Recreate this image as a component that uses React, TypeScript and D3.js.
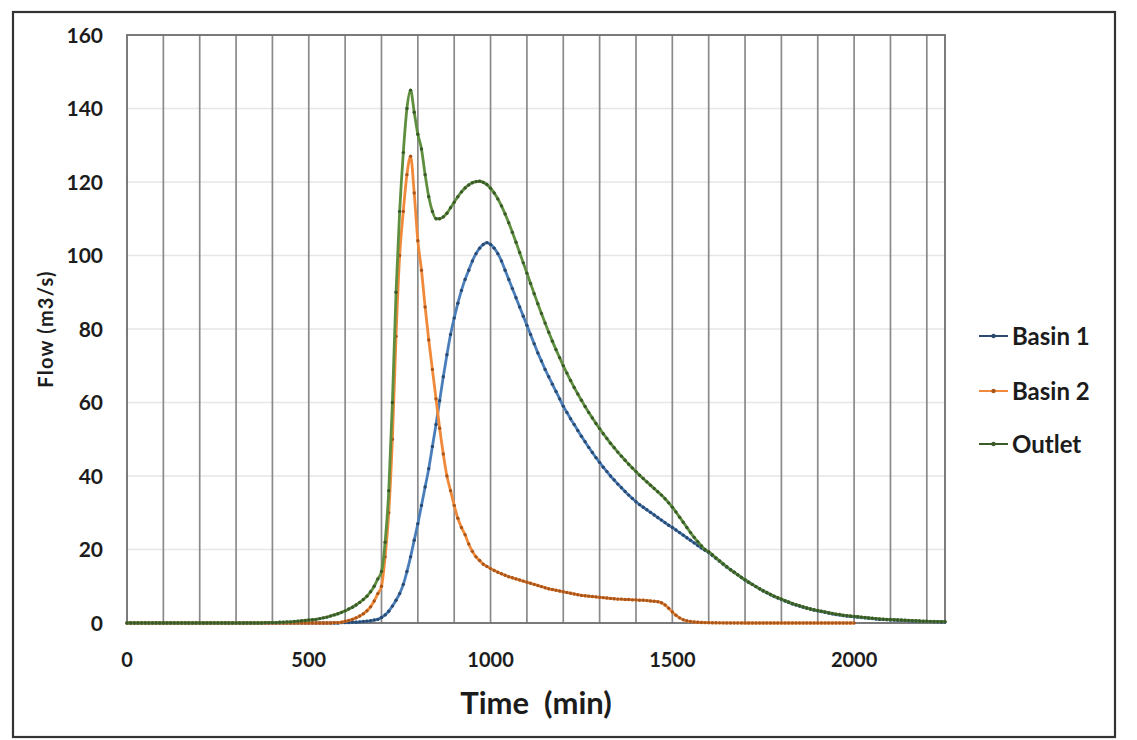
import React from "react";
import * as d3 from "d3";

// Time axis (min), 10-minute steps from 0 to 2250
const times: number[] = d3.range(0, 2251, 10);

const basin1: (number | null)[] = [
  0, 0, 0, 0, 0, 0, 0, 0, 0, 0,
  0, 0, 0, 0, 0, 0, 0, 0, 0, 0,
  0, 0, 0, 0, 0, 0, 0, 0, 0, 0,
  0, 0, 0, 0, 0, 0, 0, 0, 0, 0,
  0, 0, 0, 0, 0, 0, 0, 0, 0, 0,
  0, 0, 0, 0, 0, 0, 0, 0, 0, 0.1,
  0.1, 0.1, 0.2, 0.2, 0.3, 0.4, 0.5, 0.6, 0.8, 1.0,
  1.5, 2.2, 3.2, 4.6, 6.2, 8, 10.5, 14, 18, 22.5,
  27, 32, 37, 42, 48, 54, 60.5, 67, 73, 78.5,
  83, 87, 90.5, 93.5, 96, 98.5, 100.5, 102, 103, 103.5,
  103, 102, 100.5, 98.5, 96, 93.5, 91, 88.5, 86, 83.5,
  81, 78.5, 76, 73.5, 71.3, 69, 67, 65, 63, 61,
  59, 57.3, 55.6, 54, 52.4, 50.8, 49.3, 47.8, 46.4, 45,
  43.7, 42.4, 41.2, 40, 38.9, 37.8, 36.8, 35.8, 34.8, 33.9,
  33, 32.2, 31.5, 30.8, 30.1, 29.4, 28.7, 28, 27.3, 26.6,
  26, 25.3, 24.6, 23.9, 23.2, 22.5, 21.8, 21.1, 20.4, 19.8,
  19.2, 18.4, 17.6, 16.8, 16, 15.2, 14.5, 13.8, 13.1, 12.4,
  11.7, 11.1, 10.5, 9.9, 9.3, 8.7, 8.2, 7.7, 7.2, 6.8,
  6.4, 6, 5.6, 5.2, 4.9, 4.6, 4.3, 4, 3.8, 3.5,
  3.3, 3.1, 2.9, 2.7, 2.5, 2.3, 2.2, 2.0, 1.9, 1.8,
  1.7, 1.6, 1.5, 1.4, 1.3, 1.2, 1.1, 1.0, 0.95, 0.9,
  0.85, 0.8, 0.75, 0.7, 0.65, 0.6, 0.55, 0.5, 0.47, 0.44,
  0.41, 0.38, 0.35, 0.32, 0.3, 0.28,
];

const basin2: (number | null)[] = [
  0, 0, 0, 0, 0, 0, 0, 0, 0, 0,
  0, 0, 0, 0, 0, 0, 0, 0, 0, 0,
  0, 0, 0, 0, 0, 0, 0, 0, 0, 0,
  0, 0, 0, 0, 0, 0, 0, 0, 0, 0,
  0, 0, 0, 0, 0, 0, 0, 0, 0, 0,
  0, 0, 0, 0, 0, 0, 0, 0.1, 0.1, 0.2,
  0.5, 0.7, 1, 1.4, 1.9, 2.5, 3.3, 4.4, 6, 8,
  10, 18, 30, 50, 78, 100, 112, 122, 127, 117,
  104, 96, 86, 77, 69, 61, 53, 46, 40, 36,
  32, 28.5, 26, 24, 21.5, 19.5, 18, 17, 16, 15.4,
  14.8, 14.3, 13.8, 13.4, 13, 12.6, 12.3, 12, 11.7, 11.4,
  11.1, 10.8, 10.5, 10.2, 9.9, 9.6, 9.3, 9.1, 8.9, 8.7,
  8.5, 8.3, 8.1, 7.9, 7.7, 7.5, 7.4, 7.3, 7.2, 7.1,
  7.0, 6.9, 6.8, 6.7, 6.6, 6.5, 6.5, 6.4, 6.4, 6.3,
  6.3, 6.2, 6.2, 6.1, 6.0, 5.9, 5.8, 5.5, 4.9, 4.0,
  3.0, 2.1, 1.4, 0.9, 0.6, 0.4, 0.3, 0.2, 0.15, 0.1,
  0.08, 0.06, 0.05, 0.04, 0.03, 0.02, 0.02, 0.01, 0.01, 0.01,
  0, 0, 0, 0, 0, 0, 0, 0, 0, 0,
  0, 0, 0, 0, 0, 0, 0, 0, 0, 0,
  0, 0, 0, 0, 0, 0, 0, 0, 0, 0,
  0, null, null, null, null, null, null, null, null, null,
  null, null, null, null, null, null, null, null, null, null,
  null, null, null, null, null, null,
];

const outlet: (number | null)[] = [
  0, 0, 0, 0, 0, 0, 0, 0, 0, 0,
  0, 0, 0, 0, 0, 0, 0, 0, 0, 0,
  0, 0, 0, 0, 0, 0, 0, 0, 0, 0,
  0, 0, 0, 0, 0, 0, 0, 0, 0.1, 0.1,
  0.1, 0.1, 0.2, 0.2, 0.3, 0.3, 0.4, 0.5, 0.6, 0.7,
  0.8, 0.9, 1.0, 1.2, 1.4, 1.6, 1.9, 2.2, 2.5, 2.9,
  3.3, 3.8, 4.3, 4.9, 5.6, 6.4, 7.3, 8.5, 10, 12,
  14, 22, 36, 60, 90, 112, 128, 140, 145, 139,
  133, 129, 122, 116, 112, 110, 110, 110.5, 111.5, 113,
  114.5, 116, 117.3, 118.4, 119.2, 119.8, 120.1, 120.2, 119.9, 119.3,
  118.3, 117, 115.4, 113.5, 111.3, 108.9, 106.3, 103.6, 100.8, 98,
  95.2, 92.4, 89.6, 86.9, 84.2, 81.6, 79.1, 76.7, 74.4, 72.2,
  70, 68, 66, 64.1, 62.3, 60.6, 58.9, 57.3, 55.8, 54.3,
  52.9, 51.5, 50.2, 48.9, 47.7, 46.5, 45.4, 44.3, 43.2, 42.2,
  41.2, 40.2, 39.3, 38.4, 37.5, 36.6, 35.7, 34.8, 33.8, 32.7,
  31.5, 30.2, 28.8, 27.4, 26, 24.6, 23.3, 22.1, 21, 20,
  19.4, 18.6, 17.7, 16.9, 16.1, 15.3, 14.5, 13.8, 13.1, 12.4,
  11.8, 11.1, 10.5, 9.9, 9.3, 8.8, 8.3, 7.8, 7.3, 6.9,
  6.5, 6.1, 5.7, 5.3, 5.0, 4.7, 4.4, 4.1, 3.8, 3.6,
  3.4, 3.2, 3.0, 2.8, 2.6, 2.4, 2.3, 2.1, 2.0, 1.9,
  1.8, 1.7, 1.6, 1.5, 1.4, 1.3, 1.2, 1.1, 1.05, 1.0,
  0.95, 0.9, 0.85, 0.8, 0.75, 0.7, 0.65, 0.6, 0.55, 0.5,
  0.47, 0.44, 0.41, 0.38, 0.35, 0.33,
];

const seriesNames = ["Basin 1", "Basin 2", "Outlet"];
const lineColors = ["#4a7ebb", "#f08a3a", "#5e8f3e"];
const markerColors = ["#2b4a70", "#a8561c", "#3a5a2a"];
const xLabelTicks = [0, 500, 1000, 1500, 2000];
const xGridTicks = d3.range(100, 2250, 100);
const yTicks = [0, 20, 40, 60, 80, 100, 120, 140, 160];

const FONT = "Lato, 'Open Sans', sans-serif";

export default function App() {
  const W = 1137;
  const H = 740;
  const plot = { left: 127, right: 945, top: 35, bottom: 623 };
  const x = d3.scaleLinear().domain([0, 2250]).range([plot.left, plot.right]);
  const y = d3.scaleLinear().domain([0, 160]).range([plot.bottom, plot.top]);

  const allSeries = [basin1, basin2, outlet];
  const line = d3
    .line<[number, number | null]>()
    .defined((d) => d[1] !== null)
    .x((d) => x(d[0]))
    .y((d) => y(d[1] as number))
    .curve(d3.curveMonotoneX);

  const legendY = [336, 391, 444];

  return (
    <div style={{ position: "absolute", left: 0, top: 0 }}>
      <svg width={W} height={H} style={{ display: "block", background: "#fff" }}>
        {/* outer frame */}
        <rect x={13} y={12} width={1102} height={725} fill="#fff" stroke="#333" strokeWidth={2.2} />

        {/* horizontal grid (faint) */}
        {yTicks.map((t) => (
          <line key={"hy" + t} x1={plot.left} x2={plot.right} y1={y(t)} y2={y(t)} stroke="#e6e6e6" strokeWidth={1.5} />
        ))}
        {/* vertical grid */}
        {xGridTicks.map((t) => (
          <line key={"gx" + t} x1={x(t)} x2={x(t)} y1={plot.top} y2={plot.bottom} stroke="#8a8a8a" strokeWidth={1.7} />
        ))}
        {/* plot border */}
        <rect x={plot.left} y={plot.top} width={plot.right - plot.left} height={plot.bottom - plot.top} fill="none" stroke="#6e6e6e" strokeWidth={1.8} />

        {/* y tick labels */}
        {yTicks.map((t) => (
          <text key={"yl" + t} x={103} y={y(t)} dy="0.36em" textAnchor="end" fontFamily={FONT} fontWeight="bold" fontSize={21} fill="#1c1c1c">
            {t}
          </text>
        ))}
        {/* x tick labels */}
        {xLabelTicks.map((t) => (
          <text key={"xl" + t} x={x(t)} y={667} textAnchor="middle" fontFamily={FONT} fontWeight="bold" fontSize={20} fill="#1c1c1c">
            {t}
          </text>
        ))}

        {/* axis titles */}
        <text x={536} y={714} textAnchor="middle" fontFamily={FONT} fontWeight="bold" fontSize={31} fill="#1c1c1c" style={{ whiteSpace: "pre" }}>
          {"Time\u00A0\u00A0(min)"}
        </text>
        <text
          transform={`translate(53, ${(plot.top + plot.bottom) / 2}) rotate(-90)`}
          textAnchor="middle"
          fontFamily={FONT}
          fontWeight="bold"
          fontSize={20}
          letterSpacing={1.2}
          fill="#1c1c1c"
        >
          Flow (m3/s)
        </text>

        {/* series */}
        {allSeries.map((vals, i) => {
          const pts: [number, number | null][] = times.map((t, j) => [t, vals[j] ?? null]);
          return (
            <g key={"s" + i}>
              <path d={line(pts) || ""} fill="none" stroke={lineColors[i]} strokeWidth={2.8} />
              {pts
                .filter((p) => p[1] !== null)
                .map((p, j) => (
                  <circle key={j} cx={x(p[0])} cy={y(p[1] as number)} r={1.7} fill={markerColors[i]} />
                ))}
            </g>
          );
        })}

        {/* legend */}
        {seriesNames.map((name, i) => (
          <g key={"lg" + i}>
            <line x1={979} x2={1008} y1={legendY[i]} y2={legendY[i]} stroke={i === 1 ? lineColors[1] : markerColors[i]} strokeWidth={2} />
            <circle cx={993.5} cy={legendY[i]} r={2.2} fill={markerColors[i]} />
            <text x={1012} y={legendY[i]} dy="0.36em" fontFamily={FONT} fontWeight="bold" fontSize={24} fill="#1c1c1c">
              {name}
            </text>
          </g>
        ))}
      </svg>
    </div>
  );
}
